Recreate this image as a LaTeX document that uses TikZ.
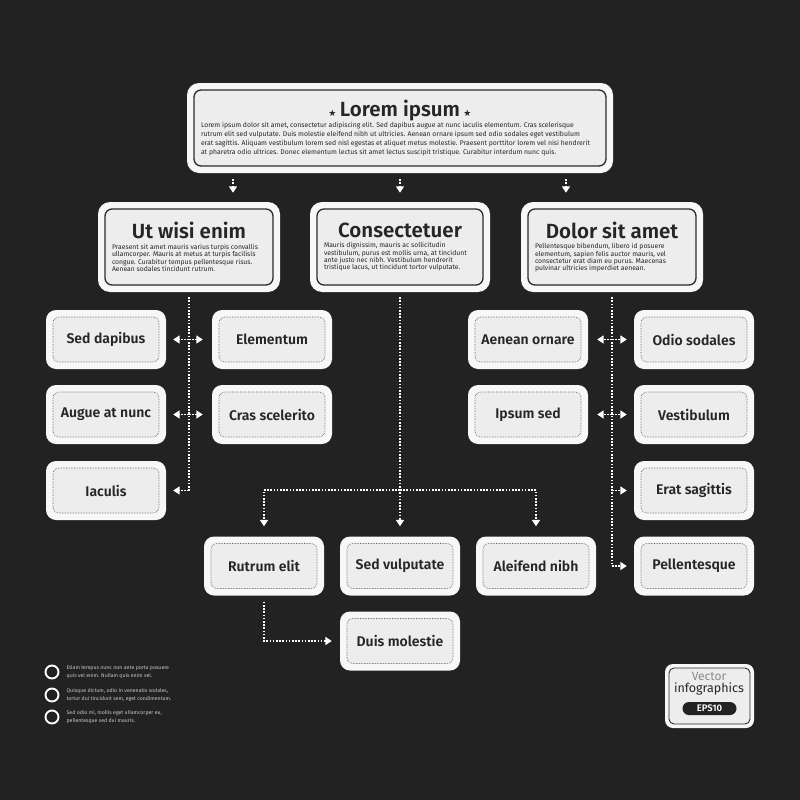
\documentclass[tikz,border=0pt]{standalone}
\usepackage{fontspec}
\setmainfont{Fira Sans}[BoldFont={Fira Sans SemiBold}]
\newfontfamily\symfont{DejaVu Sans}
\usetikzlibrary{arrows.meta,positioning,calc}

\definecolor{bgdark}{HTML}{222222}
\definecolor{boxwhite}{HTML}{F7F7F7}
\definecolor{boxgrey}{HTML}{EDEDED}
\definecolor{framedark}{HTML}{2B2B2B}
\definecolor{framegrey}{HTML}{555555}
\definecolor{textdark}{HTML}{262626}
\definecolor{legendgrey}{HTML}{C8C8C8}
\definecolor{vectorgrey}{HTML}{8A8A8A}

\newcommand{\titlefont}{\fontsize{20.5}{24}\selectfont\bfseries}
\newcommand{\leadfont}{\fontsize{6.85}{9}\selectfont}
\newcommand{\cardfont}{\fontsize{6.8}{7.4}\selectfont}
\newcommand{\labelfont}{\fontsize{14}{16}\selectfont\bfseries}
\newcommand{\smallstar}{{\symfont\fontsize{9}{9}\selectfont ★}}
% title, width, gap, body
\newcommand{\cardtext}[4]{\parbox{#2}{\centering{\titlefont #1}\par\vspace{#3}\raggedright #4\par}}

\tikzset{
  bigbox/.style={fill=boxwhite, rounded corners=12pt, inner sep=0pt, text=textdark,
    path picture={\draw[draw=framedark, line width=1.3pt, fill=boxgrey, rounded corners=7pt]
      ([shift={(7pt,7pt)}]path picture bounding box.south west) rectangle
      ([shift={(-7pt,-7pt)}]path picture bounding box.north east);}},
  smallbox/.style={fill=boxwhite, rounded corners=10pt, inner sep=0pt, text=textdark,
    minimum width=120pt, minimum height=59pt, font=\labelfont,
    path picture={\draw[draw=framegrey, line width=0.6pt, densely dotted, fill=boxgrey, rounded corners=6pt]
      ([shift={(7pt,7pt)}]path picture bounding box.south west) rectangle
      ([shift={(-7pt,-7pt)}]path picture bounding box.north east);}},
  flowline/.style={draw=white, line width=1.6pt, dash pattern=on 1.6pt off 1.6pt},
  flow/.style={flowline, -{Triangle[width=8pt,length=6.5pt]}},
  legcircle/.style={circle, draw=white, line width=1.9pt, minimum size=13pt, inner sep=0pt},
  legtext/.style={text=legendgrey, font=\fontsize{5.2}{7.6}\selectfont, align=left, inner sep=0pt, anchor=west},
  badge/.style={fill=boxwhite, rounded corners=8pt, inner sep=0pt,
    path picture={\draw[draw=framedark, line width=0.9pt, fill=boxgrey, rounded corners=5pt]
      ([shift={(4pt,4pt)}]path picture bounding box.south west) rectangle
      ([shift={(-4pt,-4pt)}]path picture bounding box.north east);}},
  pill/.style={fill=bgdark, rounded corners=6.5pt, minimum width=54pt, minimum height=13pt,
    inner sep=0pt, text=white, font=\fontsize{9.5}{10}\selectfont\bfseries},
}

\begin{document}
\begin{tikzpicture}[x=1pt, y=-1pt]
  \fill[bgdark] (0,0) rectangle (800,800);
  \useasboundingbox (0,0) rectangle (800,800);

  % head box
  \node[bigbox, minimum width=426pt, minimum height=90pt] (lorem) at (400,128)
    {\cardtext{\smallstar\,Lorem ipsum\,\smallstar}{398pt}{1pt}{\leadfont
      Lorem ipsum dolor sit amet, consectetur adipiscing elit. Sed dapibus augue at nunc iaculis elementum. Cras scelerisque\\
      rutrum elit sed vulputate. Duis molestie eleifend nibh ut ultricies. Aenean ornare ipsum sed odio sodales eget vestibulum\\
      erat sagittis. Aliquam vestibulum lorem sed nisl egestas et aliquet metus molestie. Praesent porttitor lorem vel nisi hendrerit\\
      at pharetra odio ultrices. Donec elementum lectus sit amet lectus suscipit tristique. Curabitur interdum nunc quis.}};

  % second level
  \node[bigbox, minimum width=182pt, minimum height=90pt] (ut) at (189,247)
    {\cardtext{Ut wisi enim}{154pt}{3pt}{\cardfont
      Praesent sit amet mauris varius turpis convallis\\
      ullamcorper. Mauris at metus at turpis facilisis\\
      congue. Curabitur tempus pellentesque risus.\\
      Aenean sodales tincidunt rutrum.}};
  \node[bigbox, minimum width=180pt, minimum height=90pt] (cons) at (400,247)
    {\cardtext{Consectetuer}{152pt}{3pt}{\cardfont
      Mauris dignissim, mauris ac sollicitudin\\
      vestibulum, purus est mollis urna, at tincidunt\\
      ante justo nec nibh. Vestibulum hendrerit\\
      tristique lacus, ut tincidunt tortor vulputate.}};
  \node[bigbox, minimum width=182pt, minimum height=90pt] (dolor) at (612,247)
    {\cardtext{Dolor sit amet}{154pt}{3pt}{\cardfont
      Pellentesque bibendum, libero id posuere\\
      elementum, sapien felis auctor mauris, vel\\
      consectetur erat diam eu purus. Maecenas\\
      pulvinar ultricies imperdiet aenean.}};

  % left branch
  \node[smallbox] (sed)  at (106,339.5) {Sed dapibus};
  \node[smallbox] (elem) at (272,339.5) {Elementum};
  \node[smallbox] (aug)  at (106,414.5) {Augue at nunc};
  \node[smallbox] (cras) at (272,414.5) {Cras scelerito};
  \node[smallbox] (iac)  at (106,490.5) {Iaculis};

  % middle branch
  \node[smallbox] (rut)  at (264,566) {Rutrum elit};
  \node[smallbox] (vulp) at (400,566) {Sed vulputate};
  \node[smallbox] (alei) at (536,566) {Aleifend nibh};
  \node[smallbox] (duis) at (400,641) {Duis molestie};

  % right branch
  \node[smallbox] (aen)  at (528,339.5) {Aenean ornare};
  \node[smallbox] (odio) at (694,339.5) {Odio sodales};
  \node[smallbox] (ips)  at (528,414.5) {Ipsum sed};
  \node[smallbox] (vest) at (694,414.5) {Vestibulum};
  \node[smallbox] (erat) at (694,490.5) {Erat sagittis};
  \node[smallbox] (pell) at (694,566) {Pellentesque};

  % connectors, head to second level
  \coordinate (drop1) at (233,0);
  \coordinate (drop2) at (400,0);
  \coordinate (drop3) at (566,0);
  \draw[flow, shorten <=6pt, shorten >=9pt] (lorem.south -| drop1) -- (ut.north -| drop1);
  \draw[flow, shorten <=6pt, shorten >=9pt] (lorem.south -| drop2) -- (cons.north -| drop2);
  \draw[flow, shorten <=6pt, shorten >=9pt] (lorem.south -| drop3) -- (dolor.north -| drop3);

  % left tree
  \draw[flowline, shorten <=5pt] (ut.south) -- (ut.south |- iac.east);
  \draw[flow, shorten >=7pt] (ut.south |- iac.east) -- (iac.east);
  \foreach \l/\r in {sed/elem, aug/cras}{
    \draw[flow, shorten >=7pt] (ut.south |- \l.east) -- (\l.east);
    \draw[flow, shorten >=9pt] (ut.south |- \r.west) -- (\r.west);
  }

  % middle tree
  \coordinate (hub) at (400,490);
  \draw[flow, shorten <=5pt, shorten >=10pt] (cons.south) -- (vulp.north);
  \draw[flow, shorten >=10pt] (hub) -| (rut.north);
  \draw[flow, shorten >=10pt] (hub) -| (alei.north);
  \draw[flow, shorten <=6pt, shorten >=8pt] (rut.south) |- (duis.west);

  % right tree
  \draw[flowline, shorten <=5pt] (dolor.south) -- (dolor.south |- pell.west);
  \foreach \l in {aen, ips}
    \draw[flow, shorten >=9pt] (dolor.south |- \l.east) -- (\l.east);
  \foreach \r in {odio, vest, erat, pell}
    \draw[flow, shorten >=7pt] (dolor.south |- \r.west) -- (\r.west);

  % legend
  \node[legcircle] (c1) at (52,672) {};
  \node[legcircle] (c2) at (52,695) {};
  \node[legcircle] (c3) at (52,717) {};
  \node[legtext] (t1) at ([xshift=7pt]c1.east) {Etiam tempus nunc non ante porta posuere\\quis vel enim. Nullam quis enim vel.};
  \node[legtext] (t2) at ([xshift=7pt]c2.east) {Quisque dictum, odio in venenatis sodales,\\tortor dui tincidunt sem, eget condimentum.};
  \node[legtext] (t3) at ([xshift=7pt]c3.east) {Sed odio mi, mollis eget ullamcorper eu,\\pellentesque sed dui mauris.};

  % badge
  \node[badge, minimum width=89pt, minimum height=64pt] (badge) at (709.5,696) {};
  \node[font=\fontsize{12}{12}\selectfont, text=vectorgrey, anchor=base] (vec) at (709,680) {Vector};
  \node[font=\fontsize{12.5}{12}\selectfont, text=textdark, anchor=base] (info) at (709,692) {infographics};
  \node[pill] (eps) at (709.5,708.5) {EPS10};
\end{tikzpicture}
\end{document}
